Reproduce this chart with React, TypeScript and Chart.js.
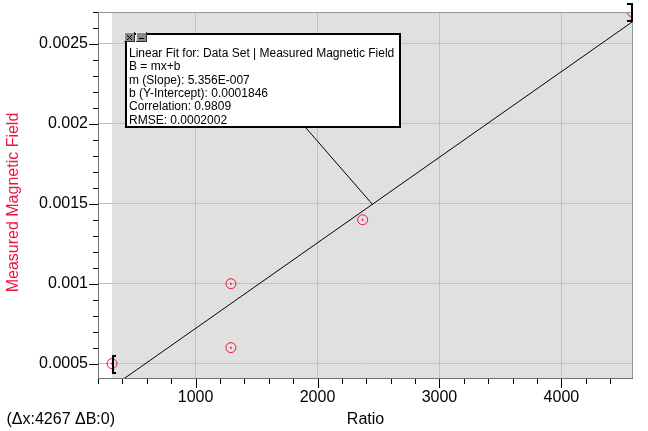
import React, { useEffect, useRef } from "react";
import { Chart, registerables } from "chart.js";

Chart.register(...registerables);

// ---- data ----
const ratioValues = [315, 1290, 1290, 2370, 4582];
const fieldValues = [0.0005, 0.001, 0.0006, 0.0014, 0.0027];
const fitSlope = 5.356e-7;
const fitIntercept = 0.0001846;
const xTickValues = [1000, 2000, 3000, 4000];
const xTickLabels = ["1000", "2000", "3000", "4000"];
const yTickValues = [0.0005, 0.001, 0.0015, 0.002, 0.0025];
const yTickLabels = ["0.0005", "0.001", "0.0015", "0.002", "0.0025"];
const xMin = 200;
const xMax = 4587;
const yMin = 0.00041;
const yMax = 0.0027;
const xMinorStep = 200;
const yMinorStep = 0.0001;
const xTitle = "Ratio";
const yTitle = "Measured Magnetic Field";
const deltaText = "(\u0394x:4267 \u0394B:0)";
const fitBoxLines = [
  "Linear Fit for: Data Set | Measured Magnetic Field",
  "B = mx+b",
  "m (Slope): 5.356E-007",
  "b (Y-Intercept): 0.0001846",
  "Correlation: 0.9809",
  "RMSE: 0.0002002",
];
const fitAnchorRatio = 2450;

const FONT = "'Liberation Sans', Arial, sans-serif";
const RED = "#ec1440";

const fitPoints = [ratioValues[0], ratioValues[ratioValues.length - 1]].map((x) => ({
  x,
  y: fitIntercept + fitSlope * x,
}));
const dataPoints = ratioValues.map((x, i) => ({ x, y: fieldValues[i] }));

const zeroPad = (s: any) => {
  s.paddingTop = 0;
  s.paddingBottom = 0;
  s.paddingLeft = 0;
  s.paddingRight = 0;
};

const decorPlugin = {
  id: "decor",
  beforeDraw(chart: any) {
    const { ctx, chartArea: a, scales } = chart;
    const gx = scales.x.getPixelForValue(ratioValues[0]);
    ctx.save();
    ctx.fillStyle = "#e0e0e0";
    ctx.fillRect(gx, a.top, a.right - gx, a.bottom - a.top);
    ctx.restore();
  },
  afterDraw(chart: any) {
    const { ctx, chartArea: a, scales } = chart;
    const xs = scales.x;
    const ys = scales.y;
    ctx.save();

    // frame
    ctx.fillStyle = "#969696";
    ctx.fillRect(a.left, a.top, a.right - a.left, 1);
    ctx.fillRect(a.right - 1, a.top, 1, a.bottom - a.top);
    ctx.fillStyle = "#707070";
    ctx.fillRect(a.left, a.top, 1, a.bottom - a.top + 1);
    ctx.fillRect(a.left, a.bottom, a.right - a.left, 1);

    // ticks
    ctx.fillStyle = "#000";
    const nx = Math.round((xMax - xMin) / xMinorStep);
    for (let i = 0; i <= nx; i++) {
      const v = xMin + i * xMinorStep;
      if (v > xMax) break;
      const px = Math.round(xs.getPixelForValue(v));
      const major = xTickValues.includes(v);
      ctx.fillRect(px, a.bottom + 1, 1, major ? 9 : 5);
    }
    const y0 = Math.ceil(yMin / yMinorStep - 1e-6);
    const y1 = Math.floor(yMax / yMinorStep + 1e-6);
    for (let i = y0; i <= y1; i++) {
      const v = i * yMinorStep;
      const py = Math.round(ys.getPixelForValue(v));
      const major = i % 5 === 0;
      const len = major ? 9 : 5;
      ctx.fillRect(a.left - len, py, len, 1);
    }

    // brackets at selection ends
    const bx0 = xs.getPixelForValue(ratioValues[0]);
    const by0 = ys.getPixelForValue(fieldValues[0]);
    ctx.fillStyle = "#000";
    ctx.fillRect(Math.round(bx0), Math.round(by0 - 9), 2, 19);
    ctx.fillRect(Math.round(bx0), Math.round(by0 - 9), 4, 2);
    ctx.fillRect(Math.round(bx0), Math.round(by0 + 8), 4, 2);
    const last = ratioValues.length - 1;
    const bx1 = xs.getPixelForValue(ratioValues[last]);
    const by1 = ys.getPixelForValue(fieldValues[last]);
    ctx.fillRect(Math.round(bx1 - 1), Math.round(by1 - 9), 2, 19);
    ctx.fillRect(Math.round(bx1 - 5), Math.round(by1 - 9), 6, 2);
    ctx.fillRect(Math.round(bx1 - 5), Math.round(by1 + 8), 6, 2);

    // connector from fit box to the fit line
    const ax = xs.getPixelForValue(fitAnchorRatio);
    const ay = ys.getPixelForValue(fitIntercept + fitSlope * fitAnchorRatio);
    ctx.strokeStyle = "#000";
    ctx.lineWidth = 1;
    ctx.beginPath();
    ctx.moveTo(306, 128);
    ctx.lineTo(ax, ay);
    ctx.stroke();

    // fit box
    const bx = 125, by = 33, bw = 276, bh = 95;
    ctx.fillStyle = "#fff";
    ctx.fillRect(bx, by, bw, bh);
    ctx.lineWidth = 2;
    ctx.strokeStyle = "#000";
    ctx.strokeRect(bx + 1, by + 1, bw - 2, bh - 2);

    // small buttons
    const btn = (x: number) => {
      ctx.fillStyle = "#8a8a8a";
      ctx.fillRect(x, 32, 11, 10);
      ctx.fillStyle = "#e8e8e8";
      ctx.fillRect(x, 32, 11, 1);
      ctx.fillRect(x, 32, 1, 10);
      ctx.fillStyle = "#303030";
      ctx.fillRect(x, 41, 11, 1);
      ctx.fillRect(x + 10, 32, 1, 10);
    };
    btn(124);
    btn(136);
    ctx.strokeStyle = "#000";
    ctx.lineWidth = 1;
    ctx.beginPath();
    ctx.moveTo(127, 35);
    ctx.lineTo(132, 40);
    ctx.moveTo(132, 35);
    ctx.lineTo(127, 40);
    ctx.stroke();
    ctx.fillStyle = "#000";
    ctx.fillRect(139, 38, 5, 1);

    ctx.fillStyle = "#000";
    ctx.font = `12px ${FONT}`;
    ctx.textBaseline = "middle";
    ctx.textAlign = "left";
    fitBoxLines.forEach((t, i) => ctx.fillText(t, 129, 53.5 + i * 13.35));

    // y title
    ctx.save();
    ctx.translate(14, 202.5);
    ctx.rotate(-Math.PI / 2);
    ctx.fillStyle = RED;
    ctx.font = `16px ${FONT}`;
    ctx.textAlign = "center";
    ctx.textBaseline = "middle";
    ctx.fillText(yTitle, 0, 0);
    ctx.restore();

    // delta readout
    ctx.fillStyle = "#000";
    ctx.font = `16px ${FONT}`;
    ctx.textAlign = "left";
    ctx.textBaseline = "middle";
    ctx.fillText(deltaText, 6.5, 420);

    ctx.restore();
  },
};

export default function App() {
  const ref = useRef<HTMLCanvasElement | null>(null);

  useEffect(() => {
    if (!ref.current) return;
    const chart = new Chart(ref.current, {
      type: "scatter",
      data: {
        datasets: [
          {
            label: "points",
            data: dataPoints,
            pointStyle: "circle",
            pointRadius: 5,
            pointBorderWidth: 1,
            pointBackgroundColor: "rgba(0,0,0,0)",
            pointBorderColor: RED,
            showLine: false,
            clip: 0,
          } as any,
          {
            label: "centers",
            data: dataPoints,
            pointRadius: 1,
            pointBorderWidth: 0,
            pointBackgroundColor: RED,
            showLine: false,
            clip: 0,
          } as any,
          {
            label: "fit",
            data: fitPoints,
            showLine: true,
            borderColor: "#000",
            borderWidth: 1,
            pointRadius: 0,
            clip: 0,
          } as any,
        ],
      },
      options: {
        animation: false,
        responsive: false,
        maintainAspectRatio: false,
        events: [],
        layout: { padding: { top: 12, right: 15, left: 0, bottom: 0 } },
        plugins: { legend: { display: false }, tooltip: { enabled: false } },
        scales: {
          x: {
            type: "linear",
            position: "bottom",
            min: xMin,
            max: xMax,
            afterFit: (s: any) => {
              s.height = 53;
              zeroPad(s);
            },
            afterBuildTicks: (s: any) => {
              s.ticks = xTickValues.map((v) => ({ value: v }));
            },
            ticks: {
              callback: (_v: any, i: number) => xTickLabels[i],
              font: { family: FONT, size: 16 },
              color: "#000",
              padding: 10,
              maxRotation: 0,
              autoSkip: false,
            },
            grid: { color: "#c0c0c0", drawTicks: false, lineWidth: 1 },
            border: { display: false },
            title: {
              display: true,
              text: xTitle,
              font: { family: FONT, size: 16 },
              color: "#000",
              padding: { top: 0, bottom: 2 },
            },
          },
          y: {
            type: "linear",
            min: yMin,
            max: yMax,
            afterFit: (s: any) => {
              s.width = 98;
              zeroPad(s);
            },
            afterBuildTicks: (s: any) => {
              s.ticks = yTickValues.map((v) => ({ value: v }));
            },
            ticks: {
              callback: (_v: any, i: number) => yTickLabels[i],
              font: { family: FONT, size: 16 },
              color: "#000",
              padding: 10,
              autoSkip: false,
            },
            grid: { color: "#c0c0c0", drawTicks: false, lineWidth: 1 },
            border: { display: false },
          },
        },
      },
      plugins: [decorPlugin],
    });
    return () => chart.destroy();
  }, []);

  return (
    <div style={{ position: "fixed", left: 0, top: 0, width: 648, height: 431, background: "#fff" }}>
      <canvas ref={ref} width={648} height={431} style={{ display: "block", width: 648, height: 431 }} />
    </div>
  );
}
